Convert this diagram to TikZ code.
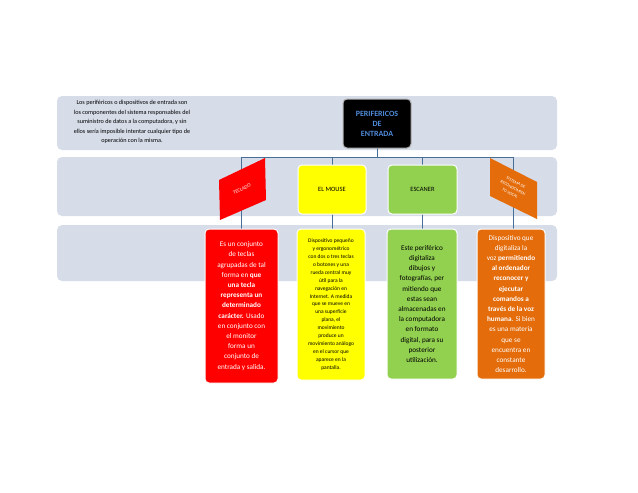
\documentclass[tikz,border=0pt]{standalone}
\usepackage{fontspec}
\setmainfont{Carlito}
\definecolor{bandgray}{RGB}{214,220,232}
\definecolor{linkblue}{RGB}{70,110,150}
\definecolor{keyred}{RGB}{255,0,0}
\definecolor{mouseyellow}{RGB}{255,255,0}
\definecolor{scangreen}{RGB}{146,208,80}
\definecolor{voiceorange}{RGB}{228,108,10}
\definecolor{titleblue}{RGB}{80,140,220}
\tikzset{
  band/.style={fill=bandgray, rounded corners=5pt},
  card/.style={draw=white, line width=1pt, rounded corners=4pt, align=center, inner sep=2pt},
  link/.style={linkblue, line width=0.9pt}
}
\begin{document}
\begin{tikzpicture}[x=1pt,y=-1pt]
                % Canvas
                \useasboundingbox[fill=white] (0,0) rectangle (638,493);

                % Bands
                \fill[band] (57,96) rectangle (557,150);
                \fill[band] (57,157) rectangle (557,216);
                \fill[band] (57,225) rectangle (557,281);

                % Intro text
                \node[align=center, font=\fontsize{6.2}{9.4}\selectfont] (intro) at (132,122)
                  {Los periféricos o dispositivos de entrada son\\los componentes del sistema responsables del\\suministro de datos a la computadora, y sin\\ellos sería imposible intentar cualquier tipo de\\operación con la misma.};

                % Points on the bus
                \coordinate (bus) at (377,157);
                \coordinate (keytop) at (241,157);
                \coordinate (voicetop) at (513,157);

                % Connectors
                \draw[link] (377,140) -- (bus);
                \draw[link] (keytop) -- (voicetop);
                \draw[link] (keytop) -- (241,232);
                \draw[link] (voicetop) -- (513,232);
                \draw[link] (332,157) -- (332,232);
                \draw[link] (422,157) -- (422,232);

                % Root
                \node[card, fill=black, draw=gray!60, minimum width=68pt, minimum height=49pt, text=titleblue,
                      font=\fontsize{8}{10}\selectfont\bfseries] (root) at (377,123.5) {PERIFERICOS\\DE\\ENTRADA};

                % Second row
                \node[card, fill=mouseyellow, minimum width=68pt, minimum height=49pt, font=\fontsize{6.5}{8}\selectfont] (mouse) at (332,189.5) {EL MOUSE};
                \node[card, fill=scangreen, minimum width=69pt, minimum height=49pt, font=\fontsize{6.5}{8}\selectfont] (scan) at (422.5,189.5) {ESCANER};
                \fill[keyred] (219,180) -- (265,158) -- (266,200) -- (220,220) -- cycle;
                \node[text=white, rotate=25, font=\fontsize{5}{6}\selectfont] (key) at (242,189) {TECLADO};
                \fill[voiceorange] (490,158) -- (537,182) -- (537,219) -- (490,196) -- cycle;
                \node[text=white, rotate=-28, align=center, inner sep=1pt, font=\fontsize{4.2}{6.2}\selectfont] (voice) at (513,188) {SISTEMA DE\\RECONOCIMIEN\\TO VOCAL};

                % Third row
                \node[card, fill=keyred, text=white, minimum width=73pt, minimum height=154pt,
                      font=\fontsize{7.2}{10.2}\selectfont] (keytext) at (241.5,306)
                  {Es un conjunto\\de teclas\\agrupadas de tal\\forma en \textbf{que}\\\textbf{una tecla}\\\textbf{representa un}\\\textbf{determinado}\\\textbf{carácter.} Usado\\en conjunto con\\el monitor\\forma un\\conjunto de\\entrada y salida.};
                \node[card, fill=mouseyellow, minimum width=68pt, minimum height=151pt,
                      font=\fontsize{5.5}{7.9}\selectfont] (mousetext) at (331,304.5)
                  {Dispositivo pequeño\\y ergonométrico\\con dos o tres teclas\\o botones y una\\rueda central muy\\útil para la\\navegación en\\Internet. A medida\\que se mueve en\\una superficie\\plana, el\\movimiento\\produce un\\movimiento análogo\\en el cursor que\\aparece en la\\pantalla.};
                \node[card, fill=scangreen, minimum width=70pt, minimum height=150pt,
                      font=\fontsize{7.2}{10.2}\selectfont] (scantext) at (422,304)
                  {Este periférico\\digitaliza\\dibujos y\\fotografías, per\\mitiendo que\\estas sean\\almacenadas en\\la computadora\\en formato\\digital, para su\\posterior\\utilización.};
                \node[card, fill=voiceorange, text=white, minimum width=68pt, minimum height=150pt,
                      font=\fontsize{7.2}{10.2}\selectfont] (voicetext) at (511,304)
                  {Dispositivo que\\digitaliza la\\voz \textbf{permitiendo}\\\textbf{al ordenador}\\\textbf{reconocer y}\\\textbf{ejecutar}\\\textbf{comandos a}\\\textbf{través de la voz}\\\textbf{humana}. Si bien\\es una materia\\que se\\encuentra en\\constante\\desarrollo.};
\end{tikzpicture}
\end{document}
